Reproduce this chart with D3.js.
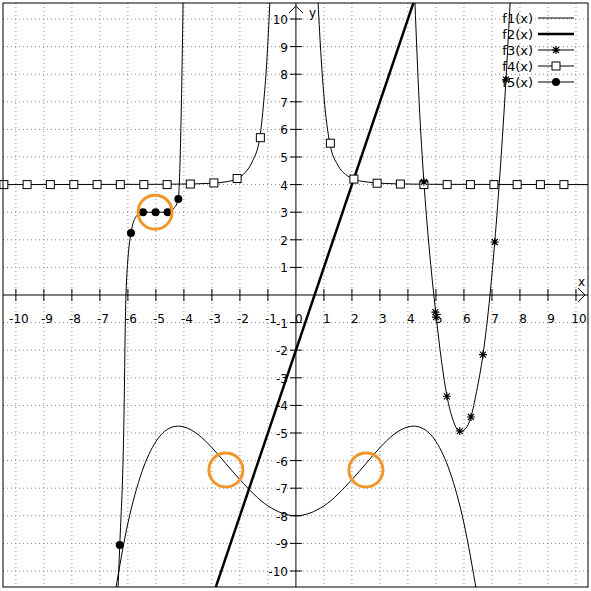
<!DOCTYPE html>
<html><head><meta charset="utf-8">
<script src="https://cdn.jsdelivr.net/npm/d3@7"></script>
<style>body{margin:0;background:#fff}text{font-family:"DejaVu Sans",Verdana,sans-serif}</style>
</head><body><svg id="c" width="591" height="591"></svg>
<script>
const xTicks=[-10,-9,-8,-7,-6,-5,-4,-3,-2,-1,0,1,2,3,4,5,6,7,8,9,10];
const yTicks=[-10,-9,-8,-7,-6,-5,-4,-3,-2,-1,0,1,2,3,4,5,6,7,8,9,10];
const f1=[[-6.46,-10.8],[-6,-8.27],[-5.5,-6.41],[-5,-5.31],[-4.5,-4.82],[-4.2,-4.75],[-4,-4.78],[-3.5,-5.05],[-3,-5.53],[-2.5,-6.11],[-2,-6.69],[-1,-7.64],[0,-8],[1,-7.64],[2,-6.69],[2.5,-6.11],[3,-5.53],[3.5,-5.05],[4,-4.78],[4.2,-4.75],[4.5,-4.82],[5,-5.31],[5.5,-6.41],[6,-8.27],[6.46,-10.8]];
const f2=[[-3,-11],[4.3,10.9]];
const f3=[[4.25,10.6],[4.4,7.0],[4.57,4.1],[4.75,1.8],[5.0,-0.7],[5.2,-2.4],[5.4,-3.7],[5.6,-4.5],[5.85,-4.95],[6.05,-4.85],[6.25,-4.42],[6.45,-3.5],[6.68,-2.16],[6.93,0],[7.1,1.92],[7.3,4.6],[7.5,7.8],[7.65,10.6]];
const f3Marks=[[4.57,4.1],[4.98,-0.62],[5.0,-0.8],[5.39,-3.67],[5.85,-4.93],[6.25,-4.42],[6.68,-2.16],[7.1,1.92],[7.5,7.8]];
const f4Left=[[-10.46,4],[-5,4.01],[-4,4.02],[-3,4.05],[-2.5,4.1],[-2.13,4.2],[-1.8,4.45],[-1.55,4.85],[-1.29,5.7],[-1.15,7.0],[-1.05,8.3],[-0.93,10.6]];
const f4Right=[[0.79,10.6],[0.9,8.6],[1.0,7.2],[1.21,5.5],[1.5,4.7],[1.8,4.35],[2.04,4.2],[2.5,4.1],[3,4.05],[4,4.02],[5,4.01],[10.43,4]];
const f4Marks=[[-10.43,4],[-9.6,4],[-8.77,4],[-7.93,4],[-7.1,4],[-6.27,4],[-5.43,4],[-4.6,4],[-3.77,4.02],[-2.93,4.06],[-2.1,4.22],[-1.27,5.7],[1.23,5.5],[2.07,4.2],[2.9,4.05],[3.73,4.02],[4.57,4],[5.4,4],[6.23,4],[7.07,4],[7.9,4],[8.73,4],[9.57,4]];
const f5=[[-6.36,-10.8],[-6.29,-9.06],[-6.15,-5],[-6.07,0],[-5.89,2.25],[-5.7,2.85],[-5.46,3.0],[-5.01,3.0],[-4.58,3.0],[-4.35,3.15],[-4.2,3.48],[-4.12,5.5],[-4.07,8],[-4.03,10.6]];
const f5Marks=[[-6.29,-9.06],[-5.89,2.25],[-5.46,3.0],[-5.01,3.0],[-4.58,3.0],[-4.2,3.48]];
const circles=[[-5.03,3.0],[-2.5,-6.34],[2.5,-6.34]];
const legendNames=["f1(x)","f2(x)","f3(x)","f4(x)","f5(x)"];

const svg=d3.select("#c");
const L=3,R=588,T=3,B=587;
const x=d3.scaleLinear().domain([-10.46,10.43]).range([L,R]);
const y=d3.scaleLinear().domain([-10.58,10.58]).range([B,T]);
svg.append("defs").append("clipPath").attr("id","cp").append("rect").attr("x",L).attr("y",T).attr("width",R-L).attr("height",B-T);
const g=svg.append("g");
// grid
g.selectAll(".gx").data(xTicks.filter(d=>d!==0)).enter().append("line").attr("x1",d=>x(d)).attr("x2",d=>x(d)).attr("y1",T).attr("y2",B).attr("stroke","#888").attr("stroke-dasharray","1,3");
g.selectAll(".gy").data(yTicks.filter(d=>d!==0)).enter().append("line").attr("y1",d=>y(d)).attr("y2",d=>y(d)).attr("x1",L).attr("x2",R).attr("stroke","#888").attr("stroke-dasharray","1,3");
// axes
const X0=x(0),Y0=y(0);
g.append("line").attr("x1",L).attr("x2",R).attr("y1",Y0).attr("y2",Y0).attr("stroke","#000");
g.append("line").attr("x1",X0).attr("x2",X0).attr("y1",T).attr("y2",B).attr("stroke","#000");
g.append("path").attr("d",`M${X0-7},${T+10}L${X0},${T+3}L${X0+7},${T+10}`).attr("fill","none").attr("stroke","#000");
g.append("path").attr("d",`M${R-10},${Y0-7}L${R-3},${Y0}L${R-10},${Y0+7}`).attr("fill","none").attr("stroke","#000");
xTicks.forEach(d=>{
  if(d!==0) g.append("line").attr("x1",x(d)).attr("x2",x(d)).attr("y1",Y0-6).attr("y2",Y0+6).attr("stroke","#000");
  g.append("text").attr("x",x(d)+3).attr("y",Y0+28).attr("text-anchor","middle").attr("font-size",12).text(d);
});
yTicks.forEach(d=>{
  if(d===0) return;
  g.append("line").attr("x1",X0-6).attr("x2",X0+6).attr("y1",y(d)).attr("y2",y(d)).attr("stroke","#000");
  g.append("text").attr("x",X0-8).attr("y",y(d)+5).attr("text-anchor","end").attr("font-size",12).text(d);
});
g.append("text").attr("x",X0+13).attr("y",T+14).attr("font-size",12).text("y");
g.append("text").attr("x",R-10).attr("y",Y0-9).attr("font-size",12).text("x");
// curves
const line=d3.line().x(d=>x(d[0])).y(d=>y(d[1])).curve(d3.curveMonotoneX);
const cg=svg.append("g").attr("clip-path","url(#cp)");
[f1,f4Left,f4Right,f3,f5].forEach(s=>cg.append("path").attr("d",line(s)).attr("fill","none").attr("stroke","#000").attr("stroke-width",1));
cg.append("path").attr("d",d3.line().x(d=>x(d[0])).y(d=>y(d[1]))(f2)).attr("fill","none").attr("stroke","#000").attr("stroke-width",2.5);
// markers
const sq=(gg,px,py)=>gg.append("rect").attr("x",px-4).attr("y",py-4).attr("width",8).attr("height",8).attr("fill","#fff").attr("stroke","#000");
const star=(gg,px,py)=>{const r=4;gg.append("path").attr("d",`M${px-r},${py}H${px+r}M${px},${py-r}V${py+r}M${px-r*0.75},${py-r*0.75}L${px+r*0.75},${py+r*0.75}M${px-r*0.75},${py+r*0.75}L${px+r*0.75},${py-r*0.75}`).attr("stroke","#000").attr("stroke-width",1.1)};
const dot=(gg,px,py)=>gg.append("circle").attr("cx",px).attr("cy",py).attr("r",4).attr("fill","#000");
f4Marks.forEach(d=>sq(svg,x(d[0]),y(d[1])));
f5Marks.forEach(d=>dot(svg,x(d[0]),y(d[1])));
// legend
const lg=svg.append("g");
legendNames.forEach((n,i)=>{
  const yy=18+i*16;
  lg.append("text").attr("x",533).attr("y",yy+5).attr("text-anchor","end").attr("font-size",13).text(n);
  lg.append("line").attr("x1",538).attr("x2",574).attr("y1",yy).attr("y2",yy).attr("stroke","#000").attr("stroke-width",i===1?2.5:1);
  if(i===2) star(lg,556,yy);
  if(i===3) sq(lg,556,yy);
  if(i===4) dot(lg,556,yy);
});
f3Marks.forEach(d=>star(svg,x(d[0]),y(d[1])));
// highlight circles
svg.selectAll(".hc").data(circles).enter().append("circle").attr("cx",d=>x(d[0])).attr("cy",d=>y(d[1])).attr("r",17).attr("fill","none").attr("stroke","#f0962a").attr("stroke-width",3);
// frame
svg.append("rect").attr("x",L).attr("y",T).attr("width",R-L).attr("height",B-T).attr("fill","none").attr("stroke","#000");
</script></body></html>
